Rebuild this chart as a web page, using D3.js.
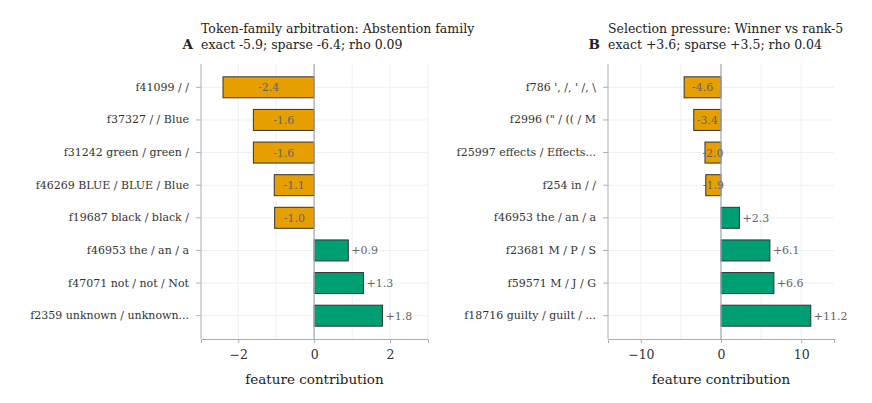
<!DOCTYPE html><html><head><meta charset="utf-8"><script src="https://cdn.jsdelivr.net/npm/d3@7"></script>
<style>body{margin:0;background:#fff}text{font-family:"DejaVu Serif",serif}</style></head><body><svg id="c" width="872" height="403"></svg>
<script>
const labelsA=["f41099 / /","f37327 / / Blue","f31242 green / green /","f46269 BLUE / BLUE / Blue","f19687 black / black /","f46953 the / an / a","f47071 not / not / Not","f2359 unknown / unknown..."];
const valuesA=[-2.4,-1.6,-1.6,-1.05,-1.04,0.9,1.3,1.8];
const textA=["-2.4","-1.6","-1.6","-1.1","-1.0","+0.9","+1.3","+1.8"];
const labelsB=["f786 ', /, ' /, \\","f2996 (\" / (( / M","f25997 effects / Effects...","f254 in / /","f46953 the / an / a","f23681 M / P / S","f59571 M / J / G","f18716 guilty / guilt / ..."];
const valuesB=[-4.6,-3.4,-2.0,-1.9,2.3,6.1,6.6,11.2];
const textB=["-4.6","-3.4","-2.0","-1.9","+2.3","+6.1","+6.6","+11.2"];
const ticksA=[-2,0,2], ticksB=[-10,0,10];
const svg=d3.select("#c");
function panel(x0,x1,letter,t1,t2,labels,vals,txt,ticks,dom){
  const g=svg.append("g");
  const x=d3.scaleLinear().domain(dom).range([x0,x1]);
  const y=d3.scaleBand().domain(labels).range([71,332]);
  const yTop=64,yBot=339;
  g.selectAll(".vg").data(x.ticks(6)).join("line").attr("x1",d=>x(d)).attr("x2",d=>x(d)).attr("y1",yTop).attr("y2",yBot).attr("stroke","#eef0f4");
  g.selectAll(".hg").data(labels).join("line").attr("x1",x0).attr("x2",x1).attr("y1",d=>y(d)+y.bandwidth()/2).attr("y2",d=>y(d)+y.bandwidth()/2).attr("stroke","#eef0f4");
  const bh=21;
  g.selectAll(".b").data(vals).join("rect").attr("x",d=>Math.min(x(0),x(d))).attr("width",d=>Math.abs(x(d)-x(0)))
   .attr("y",(d,i)=>y(labels[i])+y.bandwidth()/2-bh/2).attr("height",bh)
   .attr("fill",d=>d<0?"#E69F00":"#009E73").attr("stroke","#333").attr("stroke-width",1);
  g.append("line").attr("x1",x(0)).attr("x2",x(0)).attr("y1",yTop).attr("y2",yBot).attr("stroke","#a9aebd").attr("stroke-width",1.3);
  g.selectAll(".vt").data(vals).join("text").attr("x",d=>d<0?(x(0)+x(d))/2:x(d)+3).attr("y",(d,i)=>y(labels[i])+y.bandwidth()/2+4)
   .attr("text-anchor",d=>d<0?"middle":"start").attr("font-size",11).attr("fill","#666").text((d,i)=>txt[i]);
  const ax=g.append("g").attr("transform",`translate(0,${yBot})`).call(d3.axisBottom(x).tickValues(ticks).tickSize(4).tickFormat(d3.format("")));
  ax.select(".domain").attr("stroke","#a9aebd");ax.selectAll("line").attr("stroke","#a9aebd");
  ax.selectAll("text").attr("font-size",12.5).attr("fill","#333").attr("dy","1em").text(d=>d<0?"\u2212"+Math.abs(d):d);
  ax.selectAll("text").style("font-family","DejaVu Serif");
  const ay=g.append("g").attr("transform",`translate(${x0},0)`).call(d3.axisLeft(y).tickSize(5).tickPadding(7));
  ay.select(".domain").attr("stroke","#a9aebd").attr("d",`M0,${yTop}V${yBot}`);ay.selectAll("line").attr("stroke","#a9aebd");
  ay.selectAll("text").attr("font-size",11).attr("fill","#333").style("font-family","DejaVu Serif");
  g.append("text").attr("x",(x0+x1)/2).attr("y",384).attr("text-anchor","middle").attr("font-size",13.5).attr("fill","#222").text("feature contribution");
  g.append("text").attr("x",x0).attr("y",33).attr("font-size",12.5).attr("fill","#222").text(t1);
  g.append("text").attr("x",x0).attr("y",49).attr("font-size",12.5).attr("fill","#222").text(t2);
  g.append("text").attr("x",x0-8).attr("y",49).attr("text-anchor","end").attr("font-size",13.5).attr("font-weight","bold").attr("fill","#222").text(letter);
}
panel(201,428,"A","Token-family arbitration: Abstention family","exact -5.9; sparse -6.4; rho 0.09",labelsA,valuesA,textA,ticksA,[-2.98,3.0]);
panel(608,834,"B","Selection pressure: Winner vs rank-5","exact +3.6; sparse +3.5; rho 0.04",labelsB,valuesB,textB,ticksB,[-14.1,14.1]);
</script></body></html>
